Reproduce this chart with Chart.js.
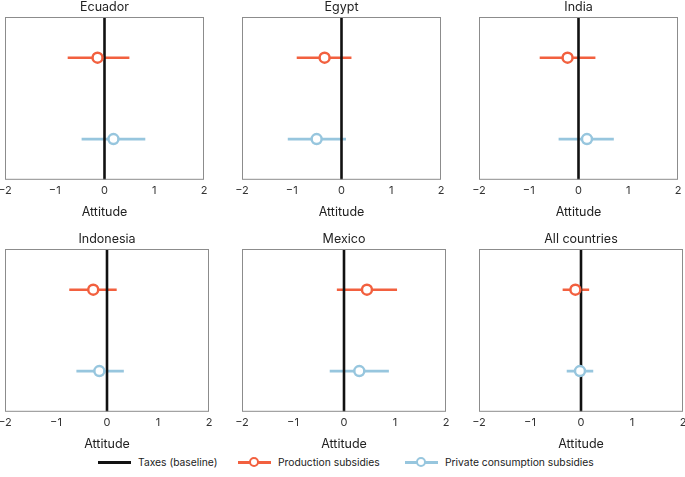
<!DOCTYPE html>
<html>
  <head>
    <meta charset="UTF-8">
    <title>Attitude by country</title>
    <script src="https://cdn.jsdelivr.net/npm/chart.js"></script>
    <style>
      body { margin: 0; width: 685px; height: 477px; overflow: hidden; background: #fff; font-family: Inter, "Noto Sans", sans-serif; position: relative; }
      .panel { position: absolute; }
      .legend { position: absolute; top: 454px; left: 0; width: 685px; height: 16px; font-size: 10.3px; color: #222; }
      .item { position: absolute; top: 0; height: 16px; line-height: 16px; white-space: nowrap; }
      .item .ln { position: absolute; top: 7px; height: 2.5px; width: 33px; left: 0; }
      .item .dot { position: absolute; top: 3px; left: 11px; width: 6px; height: 6px; border-radius: 50%; background: #fff; border: 2.5px solid; }
      .item span.lbl { position: absolute; left: 40px; top: 0; }
    </style>
  </head>
  <body>
    <div class="panel" id="p0"><canvas id="c0"></canvas></div>
    <div class="panel" id="p1"><canvas id="c1"></canvas></div>
    <div class="panel" id="p2"><canvas id="c2"></canvas></div>
    <div class="panel" id="p3"><canvas id="c3"></canvas></div>
    <div class="panel" id="p4"><canvas id="c4"></canvas></div>
    <div class="panel" id="p5"><canvas id="c5"></canvas></div>

    <div class="legend">
      <div class="item" style="left:98px"><div class="ln" style="background:#111"></div><span class="lbl">Taxes (baseline)</span></div>
      <div class="item" style="left:238px"><div class="ln" style="background:#f2603f"></div><div class="dot" style="border-color:#f2603f"></div><span class="lbl">Production subsidies</span></div>
      <div class="item" style="left:405px"><div class="ln" style="background:#97c6de"></div><div class="dot" style="border-color:#97c6de"></div><span class="lbl">Private consumption subsidies</span></div>
    </div>

    <script>
      // values
      const countries = ['Ecuador', 'Egypt', 'India', 'Indonesia', 'Mexico', 'All countries'];
      const prodMean = [-0.14, -0.34, -0.22, -0.27, 0.45, -0.11];
      const prodLow  = [-0.74, -0.90, -0.78, -0.74, -0.14, -0.36];
      const prodHigh = [0.50, 0.20, 0.34, 0.19, 1.04, 0.16];
      const consMean = [0.18, -0.50, 0.17, -0.15, 0.30, -0.02];
      const consLow  = [-0.46, -1.08, -0.40, -0.60, -0.28, -0.28];
      const consHigh = [0.82, 0.09, 0.71, 0.33, 0.88, 0.24];
      const xTicks = [-2, -1, 0, 1, 2];
      // rows on the hidden y axis
      const prodRow = 3;
      const consRow = 1;

      const orange = '#f2603f';
      const blue = '#97c6de';

      // panel placement: plot box left/width per column, top per row
      const colLeft = [5, 242, 479];
      const rowTop = [0, 232];
      const boxWidth = [199, 204];
      const pad = 12;
      const canvasH = 220;

      const boxPlugin = {
        id: 'box',
        afterDraw(chart) {
          const a = chart.chartArea;
          const ctx = chart.ctx;
          ctx.save();
          ctx.strokeStyle = '#8c8c8c';
          ctx.lineWidth = 1;
          ctx.strokeRect(a.left + 0.5, a.top + 0.5, a.right - a.left - 1, a.bottom - a.top - 1);
          ctx.restore();
        }
      };

      countries.forEach((name, i) => {
        const row = Math.floor(i / 3);
        const col = i % 3;
        const w = boxWidth[row] + pad * 2;
        const div = document.getElementById('p' + i);
        div.style.left = (colLeft[col] - pad) + 'px';
        div.style.top = rowTop[row] + 'px';
        div.style.width = w + 'px';
        div.style.height = canvasH + 'px';

        new Chart(document.getElementById('c' + i), {
          type: 'scatter',
          data: {
            datasets: [
              {
                data: [{ x: prodMean[i], y: prodRow }],
                pointRadius: 5, pointBorderWidth: 2.5,
                pointBackgroundColor: '#fff', pointBorderColor: orange,
                order: 0
              },
              {
                data: [{ x: consMean[i], y: consRow }],
                pointRadius: 5, pointBorderWidth: 2.5,
                pointBackgroundColor: '#fff', pointBorderColor: blue,
                order: 0
              },
              {
                data: [{ x: 0, y: 0 }, { x: 0, y: 4 }],
                showLine: true, borderColor: '#111', borderWidth: 2.6, pointRadius: 0,
                order: 1
              },
              {
                data: [{ x: prodLow[i], y: prodRow }, { x: prodHigh[i], y: prodRow }],
                showLine: true, borderColor: orange, borderWidth: 2.6, pointRadius: 0,
                order: 2
              },
              {
                data: [{ x: consLow[i], y: consRow }, { x: consHigh[i], y: consRow }],
                showLine: true, borderColor: blue, borderWidth: 2.6, pointRadius: 0,
                order: 2
              }
            ]
          },
          options: {
            responsive: true,
            maintainAspectRatio: false,
            animation: false,
            layout: { padding: { left: pad, right: pad, top: 0, bottom: 0 } },
            plugins: {
              legend: { display: false },
              tooltip: { enabled: false },
              title: {
                display: true, text: name, color: '#222',
                font: { family: 'Inter', size: 12.5, weight: 'normal' },
                padding: { top: 0, bottom: 2 }
              }
            },
            scales: {
              x: {
                type: 'linear', min: -2, max: 2,
                afterBuildTicks: s => { s.ticks = xTicks.map(v => ({ value: v })); },
                grid: { display: false, drawTicks: false },
                border: { display: false },
                ticks: {
                  color: '#333', padding: 4, font: { family: 'Inter', size: 11 },
                  callback: v => (v < 0 ? '\u2212' + Math.abs(v) : String(v))
                },
                title: {
                  display: true, text: 'Attitude', color: '#222',
                  font: { family: 'Inter', size: 12.5 },
                  padding: { top: 4, bottom: 0 }
                }
              },
              y: { type: 'linear', min: 0, max: 4, display: false }
            }
          },
          plugins: [boxPlugin]
        });
      });
    </script>
  </body>
</html>
